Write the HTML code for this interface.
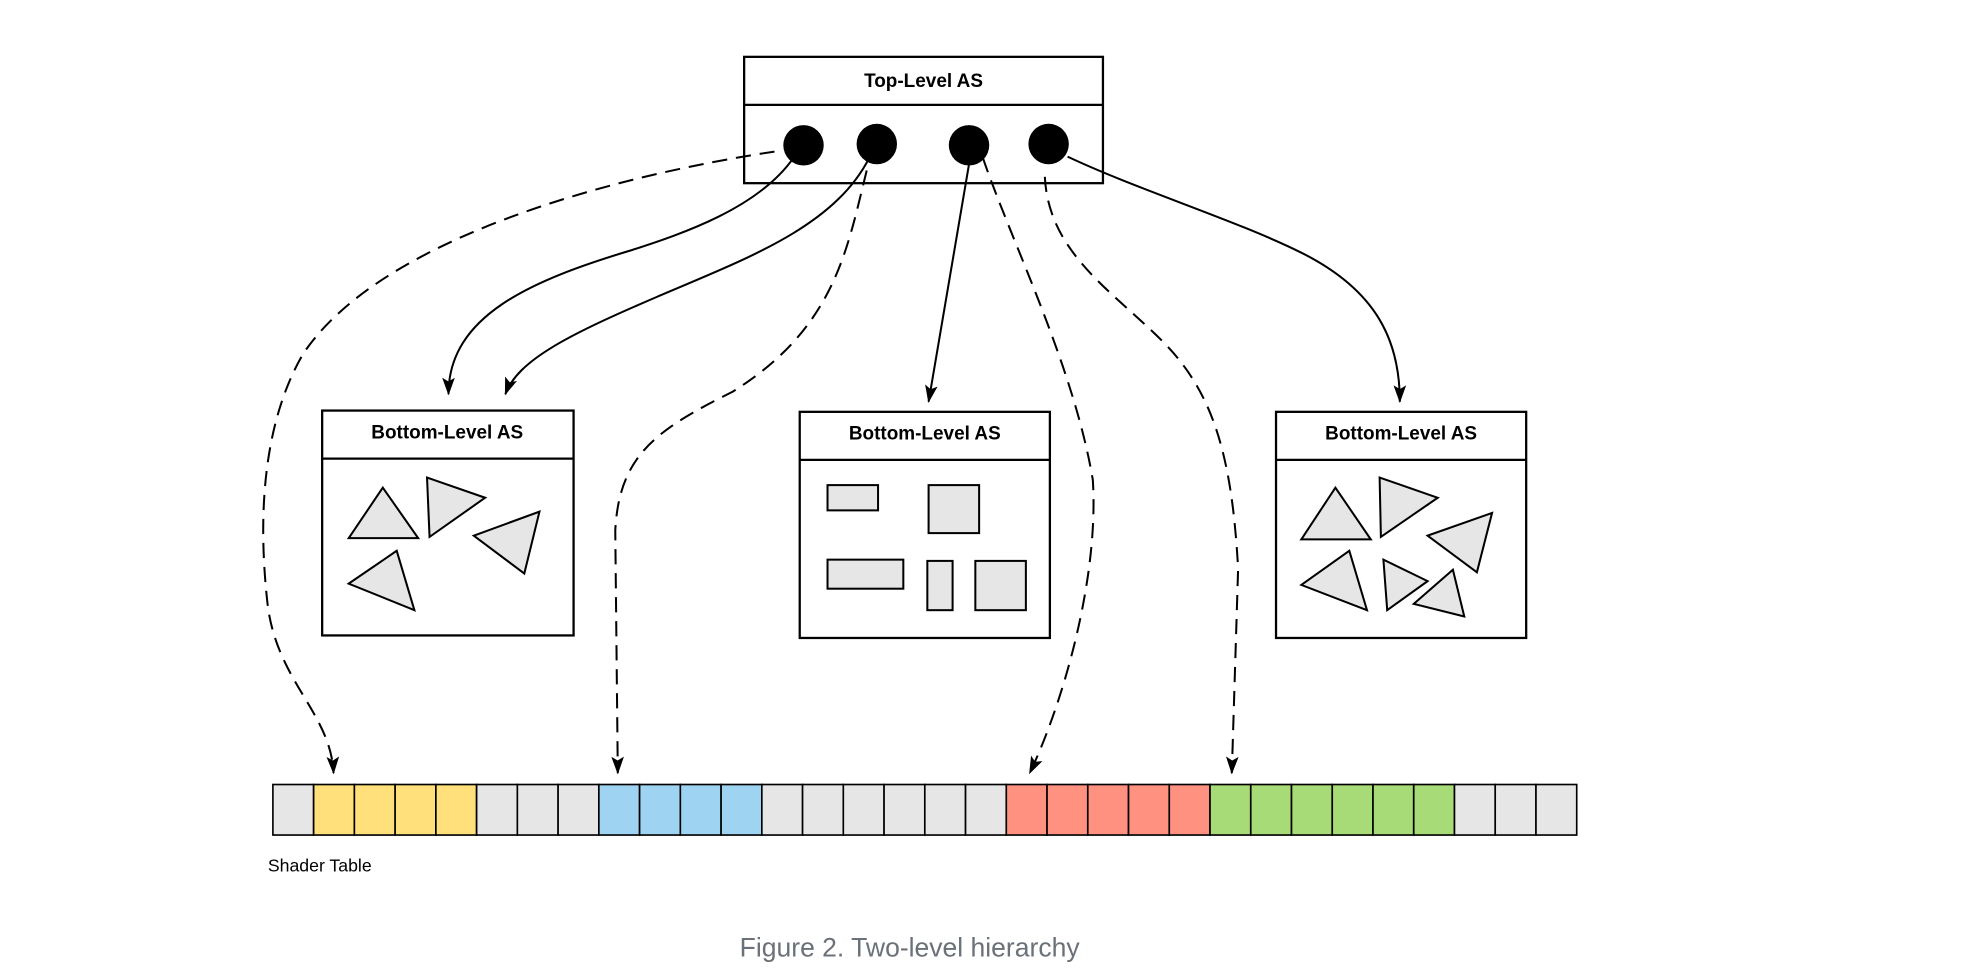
<!DOCTYPE html>
<html><head><meta charset="utf-8"><style>
html,body{margin:0;padding:0;background:#fff;width:1981px;height:974px;overflow:hidden}
svg{display:block}
</style></head><body>
<svg width="1981" height="974" viewBox="0 0 1568 771" preserveAspectRatio="none" xmlns="http://www.w3.org/2000/svg" font-family="Liberation Sans, sans-serif">
<defs>
<marker id="ar" markerWidth="14" markerHeight="10" refX="13" refY="5" orient="auto" markerUnits="userSpaceOnUse" viewBox="0 0 14 10">
<path d="M0,0 L14,5 L0,10 L3,5 Z" fill="#000"/>
</marker>
</defs>
<g fill="none" stroke="#000" stroke-width="1.6">
<path d="M628,125 C600,165 540,185 500,198 C420,222 355,250 355,312" marker-end="url(#ar)"/>
<path d="M688,125 C660,180 590,205 520,235 C450,265 410,285 400,312" marker-end="url(#ar)"/>
<path d="M767,130 L735,318" marker-end="url(#ar)"/>
<path d="M845,124 C900,150 980,175 1030,200 C1090,230 1108,270 1108,318" marker-end="url(#ar)"/>
<g stroke-dasharray="12 7">
<path d="M613,120 C480,140 300,190 240,280 C205,340 205,420 212,480 C220,540 262,565 264,612" marker-end="url(#ar)"/>
<path d="M686,135 C670,200 660,260 580,310 C520,340 490,360 487,420 L489,612" marker-end="url(#ar)"/>
<path d="M778,125 C800,190 850,290 865,380 C870,460 840,560 815,612" marker-end="url(#ar)"/>
<path d="M827,140 C830,200 880,230 920,270 C960,310 975,360 980,450 L975,612" marker-end="url(#ar)"/>
</g>
</g>
<rect x="589" y="45" width="284" height="100" fill="none" stroke="#000" stroke-width="1.8"/>
<line x1="589" y1="83" x2="873" y2="83" stroke="#000" stroke-width="1.8"/>
<text x="731" y="69" text-anchor="middle" font-size="15" font-weight="bold">Top-Level AS</text>
<g fill="#000"><circle cx="636" cy="115" r="16"/><circle cx="694" cy="114" r="16"/><circle cx="767" cy="115" r="16"/><circle cx="830" cy="114" r="16"/></g>
<g fill="#fff" stroke="#000" stroke-width="1.8">
<rect x="255" y="325" width="199" height="178"/><line x1="255" y1="363" x2="454" y2="363"/>
<rect x="633" y="326" width="198" height="179"/><line x1="633" y1="364" x2="831" y2="364"/>
<rect x="1010" y="326" width="198" height="179"/><line x1="1010" y1="364" x2="1208" y2="364"/>
</g>
<g font-size="15" font-weight="bold" text-anchor="middle">
<text x="354" y="347">Bottom-Level AS</text>
<text x="732" y="348">Bottom-Level AS</text>
<text x="1109" y="348">Bottom-Level AS</text>
</g>
<g fill="#e6e6e6" stroke="#000" stroke-width="1.6">
<polygon points="276,426 303,386 331,426"/>
<polygon points="338,378 384,394 340,425"/>
<polygon points="375,424 427,405 415,454"/>
<polygon points="276,462 314,436 328,483"/>
<rect x="655" y="384" width="40" height="20"/>
<rect x="735" y="384" width="40" height="38"/>
<rect x="655" y="443" width="60" height="23"/>
<rect x="734" y="444" width="20" height="39"/>
<rect x="772" y="444" width="40" height="39"/>
<polygon points="1030,427 1057,386 1085,427"/>
<polygon points="1092,378 1138,394 1093,425"/>
<polygon points="1130,424 1181,406 1169,453"/>
<polygon points="1030,463 1068,436 1082,483"/>
<polygon points="1095,443 1130,460 1098,483"/>
<polygon points="1119,478 1150,451 1159,488"/>
</g>
<g stroke="#000" stroke-width="1.3">
<rect x="216" y="621" width="32.25" height="40" fill="#e6e6e6"/>
<rect x="248.25" y="621" width="32.25" height="40" fill="#ffe07a"/>
<rect x="280.5" y="621" width="32.25" height="40" fill="#ffe07a"/>
<rect x="312.75" y="621" width="32.25" height="40" fill="#ffe07a"/>
<rect x="345" y="621" width="32.25" height="40" fill="#ffe07a"/>
<rect x="377.25" y="621" width="32.25" height="40" fill="#e6e6e6"/>
<rect x="409.5" y="621" width="32.25" height="40" fill="#e6e6e6"/>
<rect x="441.75" y="621" width="32.25" height="40" fill="#e6e6e6"/>
<rect x="474" y="621" width="32.25" height="40" fill="#9ed3f2"/>
<rect x="506.25" y="621" width="32.25" height="40" fill="#9ed3f2"/>
<rect x="538.5" y="621" width="32.25" height="40" fill="#9ed3f2"/>
<rect x="570.75" y="621" width="32.25" height="40" fill="#9ed3f2"/>
<rect x="603" y="621" width="32.25" height="40" fill="#e6e6e6"/>
<rect x="635.25" y="621" width="32.25" height="40" fill="#e6e6e6"/>
<rect x="667.5" y="621" width="32.25" height="40" fill="#e6e6e6"/>
<rect x="699.75" y="621" width="32.25" height="40" fill="#e6e6e6"/>
<rect x="732" y="621" width="32.25" height="40" fill="#e6e6e6"/>
<rect x="764.25" y="621" width="32.25" height="40" fill="#e6e6e6"/>
<rect x="796.5" y="621" width="32.25" height="40" fill="#ff9180"/>
<rect x="828.75" y="621" width="32.25" height="40" fill="#ff9180"/>
<rect x="861" y="621" width="32.25" height="40" fill="#ff9180"/>
<rect x="893.25" y="621" width="32.25" height="40" fill="#ff9180"/>
<rect x="925.5" y="621" width="32.25" height="40" fill="#ff9180"/>
<rect x="957.75" y="621" width="32.25" height="40" fill="#a6db78"/>
<rect x="990" y="621" width="32.25" height="40" fill="#a6db78"/>
<rect x="1022.25" y="621" width="32.25" height="40" fill="#a6db78"/>
<rect x="1054.5" y="621" width="32.25" height="40" fill="#a6db78"/>
<rect x="1086.75" y="621" width="32.25" height="40" fill="#a6db78"/>
<rect x="1119" y="621" width="32.25" height="40" fill="#a6db78"/>
<rect x="1151.25" y="621" width="32.25" height="40" fill="#e6e6e6"/>
<rect x="1183.5" y="621" width="32.25" height="40" fill="#e6e6e6"/>
<rect x="1215.75" y="621" width="32.25" height="40" fill="#e6e6e6"/>
</g>
<text x="212" y="690" font-size="14">Shader Table</text>
<text x="720" y="757" text-anchor="middle" font-size="21" fill="#6b7178">Figure 2. Two-level hierarchy</text>
</svg>
</body></html>
